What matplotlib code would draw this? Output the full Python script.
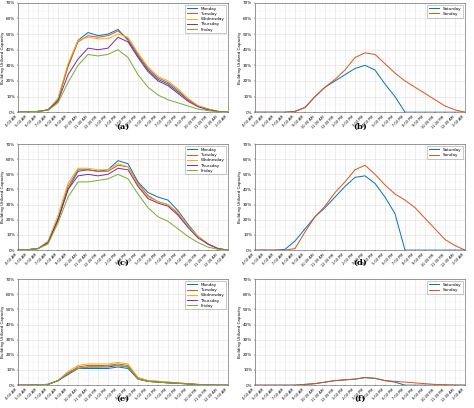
import matplotlib
matplotlib.use("Agg")
import matplotlib.pyplot as plt
import numpy as np

hours = ["4:00 AM","5:00 AM","6:00 AM","7:00 AM","8:00 AM","9:00 AM","10:00 AM","11:00 AM",
         "12:00 PM","1:00 PM","2:00 PM","3:00 PM","4:00 PM","5:00 PM","6:00 PM","7:00 PM",
         "8:00 PM","9:00 PM","10:00 PM","11:00 PM","12:00 AM","1:00 AM"]
weekdays = ["Monday","Tuesday","Wednesday","Thursday","Friday"]
weekend = ["Saturday","Sunday"]

a_mon = [0,0.3,0.5,1.5,8,30,46,51,49,50,53,46,36,27,21,18,13,8,4,2,0.5,0]
a_tue = [0,0.3,0.5,1.5,8,29,45,49,48,49,52,47,37,28,22,19,14,8,4,2,0.5,0]
a_wed = [0,0.3,0.5,1.5,9,31,46,48,47,47,50,48,38,29,23,20,15,9,4,2,0.5,0]
a_thu = [0,0.3,0.5,1.5,7,24,34,41,40,41,48,45,35,26,20,17,12,7,3.5,1.5,0.5,0]
a_fri = [0,0.3,0.5,1.2,6,19,30,37,36,37,40,35,24,16,11,8,6,4,2,1,0.3,0]
b_sat = [0,0,0,0,0.5,3,10,16,20,24,28,30,27,18,10,0,0,0,0,0,0,0]
b_sun = [0,0,0,0,0.5,3,10,16,21,27,35,38,37,31,25,20,16,12,8,4,1.5,0]

c_mon = [0,0.3,1,5,20,40,52,53,52,53,59,57,45,38,35,33,26,17,9,4,1,0]
c_tue = [0,0.3,1,5,21,42,53,53,52,52,56,55,44,36,32,30,24,16,9,4,1,0]
c_wed = [0,0.3,1,6,23,44,54,54,53,53,57,55,43,35,32,30,25,16,9,4,1,0]
c_thu = [0,0.3,1,5,20,40,49,50,49,50,54,53,42,34,31,29,23,15,8,4,1,0]
c_fri = [0,0.3,1,4,18,35,45,45,46,47,50,47,37,28,22,19,14,9,5,2,0.5,0]
d_sat = [0,0,0,0.5,6,14,22,28,35,42,48,49,44,35,24,0,0,0,0,0,0,0]
d_sun = [0,0,0,0,1,12,22,29,38,45,53,56,50,43,37,33,28,21,14,7,3,0]

e_mon = [0,0,0.3,0.5,3,8,11,11,11,11,12,11,4,2.5,2,1.5,1.2,0.8,0.4,0.1,0,0]
e_tue = [0,0,0.3,0.5,3,8,12,13,13,13,14,13,5,3,2.5,2,1.5,1,0.5,0.2,0,0]
e_wed = [0,0,0.3,0.5,3,9,13,14,14,14,15,14,5,3,2.5,2,1.5,1,0.5,0.2,0,0]
e_thu = [0,0,0.3,0.5,3,7,11,12,12,12,13,12,4,2.5,2,1.5,1.2,0.8,0.4,0.1,0,0]
e_fri = [0,0,0.3,0.5,3,8,11,12,12,13,13,12,4,2.5,2,1.6,1.2,0.8,0.4,0.1,0,0]
f_sat = [0,0,0,0,0,0.5,1,2,3,3.5,4,5,4.5,3,2,0,0,0,0,0,0,0]
f_sun = [0,0,0,0,0,0.5,1,2,3,3.5,4,5,4.5,3,2.5,2,1.5,1,0.5,0.3,0.1,0]

wk_colors = ["#0072BD","#D95319","#EDB120","#7E2F8E","#77AC30"]
we_colors = ["#0072BD","#D95319"]

fig = plt.figure(figsize=(4.74,4.08), dpi=100)
rows = [(0.725,0.268,0.68,"(a)","(b)"),(0.387,0.26,0.345,"(c)","(d)"),(0.056,0.26,0.012,"(e)","(f)")]
panels = [([a_mon,a_tue,a_wed,a_thu,a_fri],[b_sat,b_sun]),
          ([c_mon,c_tue,c_wed,c_thu,c_fri],[d_sat,d_sun]),
          ([e_mon,e_tue,e_wed,e_thu,e_fri],[f_sat,f_sun])]
x = np.arange(len(hours))
for (bottom,h,capy,la,lb),(wk,we) in zip(rows,panels):
    for left,series,names,cols,lab in [(0.038,wk,weekdays,wk_colors,la),(0.538,we,weekend,we_colors,lb)]:
        ax = fig.add_axes([left,bottom,0.443,h])
        for s,n,c in zip(series,names,cols):
            ax.plot(x,s,color=c,lw=0.7,label=n)
        ax.set_xlim(0,len(hours)-1); ax.set_ylim(0,70)
        ax.set_xticks(x); ax.set_xticklabels(hours,rotation=45,ha="right",fontsize=2.5)
        ax.set_yticks(range(0,71,10)); ax.set_yticklabels([f"{v}%" for v in range(0,71,10)],fontsize=3)
        ax.set_xticks(x[:-1]+0.5,minor=True); ax.set_yticks(range(5,70,10),minor=True)
        ax.grid(True,which="major",color="#dddddd",lw=0.4)
        ax.grid(True,which="minor",color="#eeeeee",lw=0.3)
        ax.tick_params(length=1,width=0.3,pad=1)
        ax.tick_params(which="minor",length=0)
        for sp in ax.spines.values(): sp.set_linewidth(0.4); sp.set_color("#555555")
        ax.set_ylabel("Building Utilized Capacity",fontsize=3,labelpad=1)
        ax.legend(loc="upper right",fontsize=3,frameon=True,fancybox=False,edgecolor="#888888",
                  handlelength=2.5,borderpad=0.4,labelspacing=0.3).get_frame().set_linewidth(0.4)
        fig.text(left+0.443/2,capy,lab,ha="center",va="bottom",fontsize=6,fontweight="bold",family="serif")
fig.savefig("out.png",dpi=100)
